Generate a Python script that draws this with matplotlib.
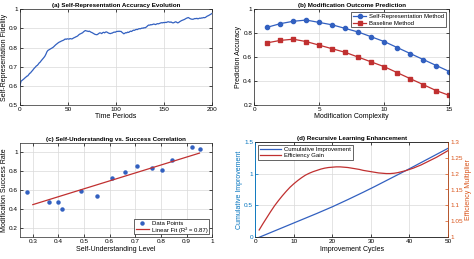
import matplotlib
matplotlib.use("Agg")
import matplotlib.pyplot as plt
import numpy as np

plt.rcParams['font.family'] = ['Liberation Sans', 'DejaVu Sans']
plt.rcParams['font.size'] = 5
plt.rcParams['axes.linewidth'] = 0.5
plt.rcParams['axes.edgecolor'] = '#262626'
plt.rcParams['xtick.direction'] = 'in'
plt.rcParams['ytick.direction'] = 'in'
plt.rcParams['xtick.major.size'] = 2
plt.rcParams['ytick.major.size'] = 2
plt.rcParams['xtick.major.width'] = 0.5
plt.rcParams['ytick.major.width'] = 0.5
plt.rcParams['xtick.labelsize'] = 4.6
plt.rcParams['ytick.labelsize'] = 4.6
plt.rcParams['xtick.major.pad'] = 1.5
plt.rcParams['ytick.major.pad'] = 1.5
plt.rcParams['legend.fontsize'] = 4.3

# (a) self-representation fidelity over time periods 0..200
fidelity = [
    0.600, 0.624, 0.628, 0.632, 0.636, 0.641, 0.645, 0.650, 0.652, 0.658,
    0.665, 0.668, 0.675, 0.680, 0.687, 0.693, 0.698, 0.704, 0.707, 0.713,
    0.720, 0.724, 0.731, 0.737, 0.743, 0.749, 0.756, 0.766, 0.778, 0.785,
    0.788, 0.791, 0.794, 0.797, 0.800, 0.804, 0.809, 0.814, 0.818, 0.822,
    0.826, 0.829, 0.831, 0.834, 0.836, 0.838, 0.841, 0.845, 0.843, 0.846,
    0.845, 0.844, 0.847, 0.846, 0.845, 0.848, 0.851, 0.853, 0.856, 0.858,
    0.861, 0.866, 0.870, 0.872, 0.875, 0.877, 0.882, 0.886, 0.889, 0.887,
    0.886, 0.884, 0.886, 0.883, 0.880, 0.878, 0.875, 0.872, 0.869, 0.868,
    0.867, 0.870, 0.874, 0.877, 0.876, 0.873, 0.878, 0.880, 0.877, 0.881,
    0.882, 0.879, 0.876, 0.874, 0.873, 0.875, 0.876, 0.879, 0.881, 0.880,
    0.883, 0.885, 0.884, 0.886, 0.884, 0.885, 0.880, 0.876, 0.872, 0.875,
    0.878, 0.877, 0.881, 0.879, 0.883, 0.886, 0.884, 0.888, 0.891, 0.890,
    0.893, 0.895, 0.894, 0.897, 0.899, 0.898, 0.900, 0.902, 0.901, 0.904,
    0.903, 0.906, 0.910, 0.915, 0.918, 0.917, 0.920, 0.919, 0.921, 0.923,
    0.922, 0.920, 0.923, 0.925, 0.924, 0.926, 0.928, 0.930, 0.929, 0.931,
    0.930, 0.932, 0.931, 0.933, 0.935, 0.934, 0.932, 0.934, 0.931, 0.929,
    0.930, 0.933, 0.935, 0.932, 0.929, 0.931, 0.935, 0.938, 0.941, 0.943,
    0.945, 0.947, 0.950, 0.953, 0.955, 0.957, 0.954, 0.951, 0.949, 0.948,
    0.948, 0.950, 0.952, 0.951, 0.953, 0.950, 0.952, 0.954, 0.953, 0.955,
    0.955, 0.957, 0.956, 0.958, 0.962, 0.965, 0.967, 0.970, 0.973, 0.976,
    0.980,
]
time_periods = list(range(len(fidelity)))

# (b) prediction accuracy vs modification complexity
complexity = list(range(1, 16))
self_rep_acc = [0.85, 0.88, 0.90, 0.91, 0.89, 0.87, 0.84, 0.81, 0.77, 0.73,
                0.68, 0.63, 0.58, 0.53, 0.48]
baseline_acc = [0.72, 0.74, 0.75, 0.73, 0.70, 0.67, 0.64, 0.60, 0.56, 0.52,
                0.47, 0.42, 0.37, 0.32, 0.28]

# (c) self-understanding vs success
understanding = [0.278, 0.363, 0.398, 0.413, 0.486, 0.550, 0.608, 0.661,
                 0.705, 0.765, 0.804, 0.841, 0.922, 0.952]
success = [0.583, 0.478, 0.468, 0.402, 0.593, 0.534, 0.722, 0.791,
           0.850, 0.830, 0.809, 0.913, 1.052, 1.035]
fit_slope = 0.838
fit_intercept = 0.194
fit_range = [0.30, 0.95]

# (d) recursive learning
cycles = list(range(1, 51))
cumulative = [
    0.000, 0.025, 0.050, 0.075, 0.100, 0.125, 0.150, 0.175, 0.200, 0.225,
    0.250, 0.275, 0.300, 0.325, 0.350, 0.375, 0.401, 0.427, 0.453, 0.479,
    0.507, 0.535, 0.563, 0.591, 0.620, 0.649, 0.678, 0.707, 0.737, 0.767,
    0.797, 0.828, 0.859, 0.890, 0.921, 0.952, 0.983, 1.014, 1.045, 1.076,
    1.108, 1.140, 1.172, 1.204, 1.236, 1.268, 1.300, 1.332, 1.364, 1.396,
]
efficiency = [
    1.023, 1.043, 1.062, 1.081, 1.099, 1.115, 1.130, 1.144, 1.157, 1.168,
    1.178, 1.187, 1.195, 1.201, 1.206, 1.210, 1.214, 1.217, 1.219, 1.220,
    1.221, 1.221, 1.220, 1.219, 1.217, 1.215, 1.213, 1.210, 1.208, 1.206,
    1.204, 1.202, 1.201, 1.200, 1.200, 1.201, 1.203, 1.206, 1.209, 1.213,
    1.217, 1.222, 1.227, 1.233, 1.239, 1.245, 1.251, 1.258, 1.265, 1.272,
]

blue = '#3260c0'
red = '#c03030'
grid_kw = dict(color='#d9d9d9', linewidth=0.5)
title_size = 4.5

fig = plt.figure(figsize=(4.74, 2.59), dpi=100)
W, H = 474, 259


def box(l, t, r, b):
    return [l / W, 1 - b / H, (r - l) / W, (b - t) / H]


def style(ax, title):
    ax.grid(True, **grid_kw)
    ax.set_axisbelow(True)
    ax.set_title(title, fontsize=title_size, fontweight='bold', pad=1.5)
    ax.tick_params(top=True, right=True)


# (a)
ax1 = fig.add_axes(box(20, 9.3, 212.3, 105))
ax1.plot(time_periods, fidelity, color=blue, linewidth=0.9)
ax1.set_xlim(0, 200)
ax1.set_ylim(0.5, 1)
ax1.set_xticks([0, 50, 100, 150, 200])
ax1.set_yticks([0.5, 0.6, 0.7, 0.8, 0.9, 1])
ax1.set_yticklabels(['0.5', '0.6', '0.7', '0.8', '0.9', '1'])
ax1.set_xlabel('Time Periods', labelpad=1)
ax1.set_ylabel('Self-Representation Fidelity', labelpad=1)
style(ax1, '(a) Self-Representation Accuracy Evolution')

# (b)
ax2 = fig.add_axes(box(254.3, 9.3, 449.3, 105))
ax2.plot(complexity, self_rep_acc, '-o', color=blue, linewidth=0.9,
         markersize=3, label='Self-Representation Method')
ax2.plot(complexity, baseline_acc, '-s', color=red, linewidth=0.9,
         markersize=2.7, label='Baseline Method')
ax2.set_xlim(0, 15)
ax2.set_ylim(0.2, 1)
ax2.set_xticks([0, 5, 10, 15])
ax2.set_yticks([0.2, 0.4, 0.6, 0.8, 1])
ax2.set_yticklabels(['0.2', '0.4', '0.6', '0.8', '1'])
ax2.set_xlabel('Modification Complexity', labelpad=1)
ax2.set_ylabel('Prediction Accuracy', labelpad=1)
style(ax2, '(b) Modification Outcome Prediction')
ax2.legend(loc='upper right', fancybox=False, edgecolor='#262626',
           framealpha=1, borderpad=0.3, labelspacing=0.2, handlelength=2.2,
           handletextpad=0.5, borderaxespad=0.5).get_frame().set_linewidth(0.5)

# (c)
ax3 = fig.add_axes(box(20, 142.7, 212.3, 237.3))
ax3.plot(understanding, success, 'o', color=blue, markersize=2.2,
         linestyle='none', label='Data Points')
fx = np.array(fit_range)
ax3.plot(fx, fit_slope * fx + fit_intercept, color=red, linewidth=0.9,
         label='Linear Fit (R² = 0.87)')
ax3.set_xlim(0.25, 1)
ax3.set_ylim(0.1, 1.1)
ax3.set_xticks([0.3, 0.4, 0.5, 0.6, 0.7, 0.8, 0.9, 1])
ax3.set_xticklabels(['0.3', '0.4', '0.5', '0.6', '0.7', '0.8', '0.9', '1'])
ax3.set_yticks([0.2, 0.4, 0.6, 0.8, 1])
ax3.set_yticklabels(['0.2', '0.4', '0.6', '0.8', '1'])
ax3.set_xlabel('Self-Understanding Level', labelpad=1)
ax3.set_ylabel('Modification Success Rate', labelpad=1)
style(ax3, '(c) Self-Understanding vs. Success Correlation')
ax3.legend(loc='lower right', fancybox=False, edgecolor='#262626',
           framealpha=1, borderpad=0.3, labelspacing=0.2, handlelength=2.2,
           handletextpad=0.5, borderaxespad=0.5).get_frame().set_linewidth(0.5)

# (d)
left_c = '#0072BD'
right_c = '#D95319'
ax4 = fig.add_axes(box(255.3, 141.7, 448, 237.3))
l1, = ax4.plot(cycles, cumulative, color=blue, linewidth=0.9,
               label='Cumulative Improvement')
ax4.set_xlim(0, 50)
ax4.set_ylim(0, 1.5)
ax4.set_xticks([0, 10, 20, 30, 40, 50])
ax4.set_yticks([0, 0.5, 1, 1.5])
ax4.set_yticklabels(['0', '0.5', '1', '1.5'])
ax4.grid(True, **grid_kw)
ax4.set_axisbelow(True)
ax4.set_title('(d) Recursive Learning Enhancement', fontsize=title_size,
              fontweight='bold', pad=1.5)
ax4.tick_params(axis='x', top=True)
ax4.tick_params(axis='y', colors=left_c)
ax4.spines['left'].set_color(left_c)
ax4.set_xlabel('Improvement Cycles', labelpad=1)
ax4.set_ylabel('Cumulative Improvement', color=left_c, labelpad=1)

ax5 = ax4.twinx()
l2, = ax5.plot(cycles, efficiency, color=red, linewidth=0.9,
               label='Efficiency Gain')
ax5.set_ylim(1, 1.3)
ax5.set_yticks([1, 1.05, 1.1, 1.15, 1.2, 1.25, 1.3])
ax5.set_yticklabels(['1', '1.05', '1.1', '1.15', '1.2', '1.25', '1.3'])
ax5.tick_params(axis='y', colors=right_c)
ax5.spines['right'].set_color(right_c)
ax5.spines['left'].set_color(left_c)
ax5.set_ylabel('Efficiency Multiplier', color=right_c, labelpad=1.5)
ax5.legend([l1, l2], [l1.get_label(), l2.get_label()], loc='upper left',
           fancybox=False, edgecolor='#262626', framealpha=1, borderpad=0.3,
           labelspacing=0.2, handlelength=3.5, handletextpad=0.5,
           borderaxespad=0.5).get_frame().set_linewidth(0.5)

fig.savefig('out.png', dpi=100)
